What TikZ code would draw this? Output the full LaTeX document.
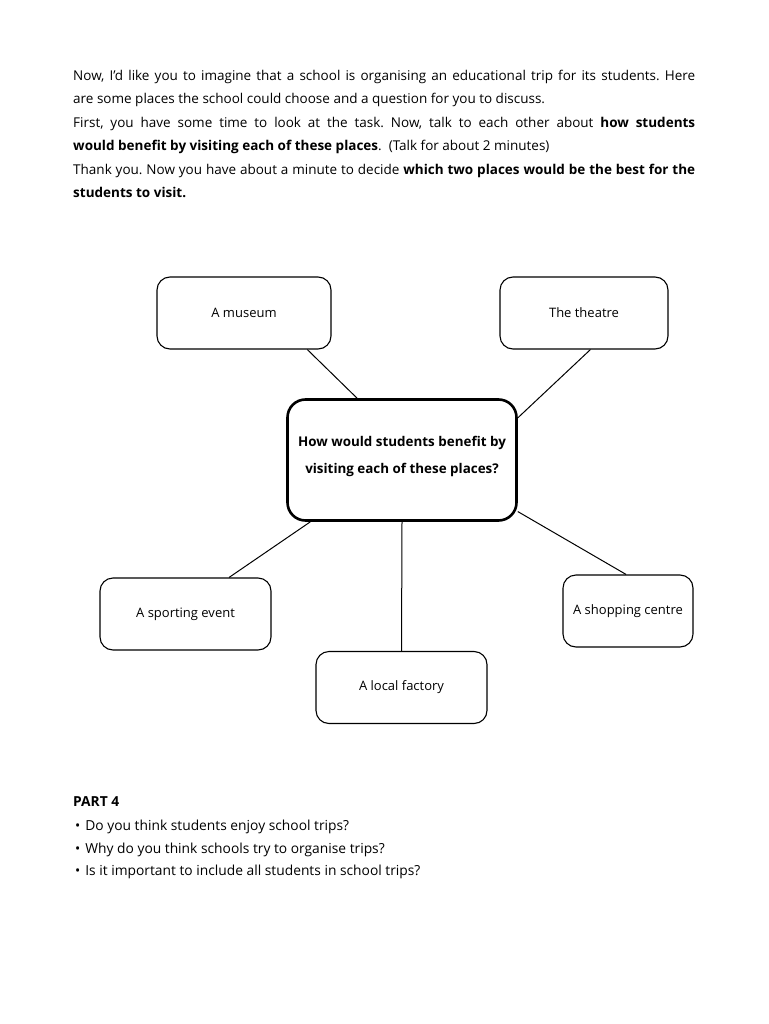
\documentclass[tikz,border=0pt]{standalone}
\usepackage{fontspec}
\setmainfont{Open Sans}
\frenchspacing
\begin{document}
\begin{tikzpicture}[x=1pt,y=-1pt]
    \tikzstyle{every node}+=[inner sep=0pt]
    \tikzstyle{place}=[draw=black, line width=1.1pt, rounded corners=13pt, minimum height=72pt, font=\fontsize{13}{16}\selectfont]
    \tikzstyle{question}=[draw=black, line width=2.6pt, rounded corners=18pt, minimum width=229pt, minimum height=121pt, align=center, font=\fontsize{13.4}{27}\selectfont\bfseries]
    \tikzstyle{spoke}=[draw=black, line width=1pt]
    \useasboundingbox (0,0) rectangle (768,1024);
    \node [anchor=north west, text width=622pt, align=justify, font=\fontsize{13.5}{23.4}\selectfont] (intro) at (73,70) {Now, I’d like you to imagine that a school is organising an educational trip for its students. Here\linebreak are some places the school could choose and a question for you to discuss.\par First, you have some time to look at the task. Now, talk to each other about \textbf{how students}\linebreak \textbf{would benefit by visiting each of these places}.\ \ (Talk for about 2 minutes)\par Thank you. Now you have about a minute to decide \textbf{which two places would be the best for the}\linebreak \textbf{students to visit.}};
    \node [question] (hub) at (402,460) {How would students benefit by\\visiting each of these places?\rule[-11pt]{0pt}{1pt}};
    \node [place, minimum width=174pt] (museum) at (244,313) {A museum};
    \node [place, minimum width=168pt] (theatre) at (584,313) {The theatre};
    \node [place, minimum width=171pt] (sport) at (185.5,614) {A sporting event};
    \node [place, minimum width=171pt] (factory) at (401.5,687.5) {A local factory};
    \node [place, minimum width=130pt] (shop) at (628,611) {A shopping centre};
    \draw [spoke] (museum.-30) -- (hub.126);
    \draw [spoke] (theatre.-80) -- (hub.20);
    \draw [spoke] (sport.40) -- (hub.214);
    \draw [spoke] (factory.north) -- (hub.south);
    \draw [spoke] (shop.93) -- (hub.-24);
    \node [anchor=north west, align=left, font=\fontsize{13.8}{22.5}\selectfont] (part) at (73,796) {\textbf{PART 4}\\[2pt]
        \hspace*{2pt}•\hspace{5pt}Do you think students enjoy school trips?\\
        \hspace*{2pt}•\hspace{5pt}Why do you think schools try to organise trips?\\
        \hspace*{2pt}•\hspace{5pt}Is it important to include all students in school trips?};
\end{tikzpicture}
\end{document}
